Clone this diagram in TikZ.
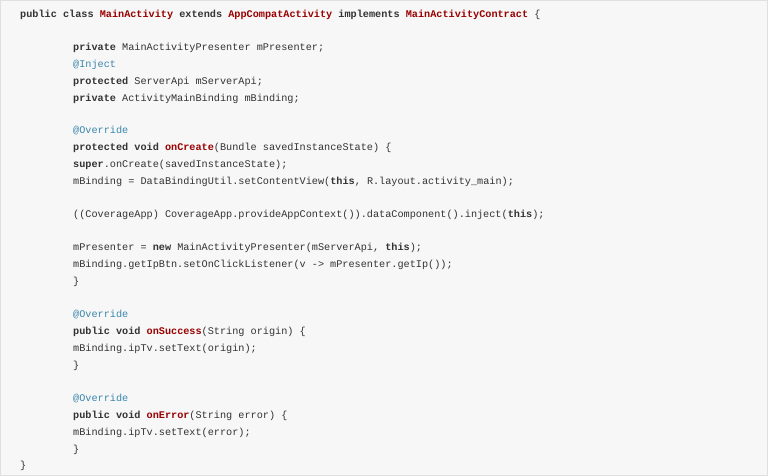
\documentclass[tikz,border=0pt]{standalone}
\usepackage{fontspec}
\setmonofont{Liberation Mono}
\definecolor{txt}{HTML}{333333}
\definecolor{tyc}{HTML}{990000}
\definecolor{anc}{HTML}{3A87AD}
\newcommand{\kw}[1]{\textbf{#1}}
\newcommand{\ty}[1]{\textcolor{tyc}{\textbf{#1}}}
\newcommand{\an}[1]{\textcolor{anc}{#1}}
\tikzset{ln/.style={anchor=west,inner sep=0pt,font=\ttfamily\fontsize{10.2}{12}\selectfont,text=txt}}
\begin{document}
\begin{tikzpicture}[x=1pt,y=-1pt]
\path[fill=black!3,draw=black!12] (0.5,0.5) rectangle (767.5,475.5);
\useasboundingbox (0,0) rectangle (768,476);
\node[ln] (l1) at (20,15) {\kw{public} \kw{class} \ty{MainActivity} \kw{extends} \ty{AppCompatActivity} \kw{implements} \ty{MainActivityContract} \{};
\node[ln] (l2) at (73,48) {\kw{private} MainActivityPresenter mPresenter;};
\node[ln] (l3) at (73,65) {\an{@Inject}};
\node[ln] (l4) at (73,82) {\kw{protected} ServerApi mServerApi;};
\node[ln] (l5) at (73,99) {\kw{private} ActivityMainBinding mBinding;};
\node[ln] (l6) at (73,131) {\an{@Override}};
\node[ln] (l7) at (73,148) {\kw{protected} \kw{void} \ty{onCreate}(Bundle savedInstanceState) \{};
\node[ln] (l8) at (73,165) {\kw{super}.onCreate(savedInstanceState);};
\node[ln] (l9) at (73,182) {mBinding = DataBindingUtil.setContentView(\kw{this}, R.layout.activity\_main);};
\node[ln] (l10) at (73,215) {((CoverageApp) CoverageApp.provideAppContext()).dataComponent().inject(\kw{this});};
\node[ln] (l11) at (73,248) {mPresenter = \kw{new} MainActivityPresenter(mServerApi, \kw{this});};
\node[ln] (l12) at (73,265) {mBinding.getIpBtn.setOnClickListener(v -\/> mPresenter.getIp());};
\node[ln] (l13) at (73,282) {\}};
\node[ln] (l14) at (73,315) {\an{@Override}};
\node[ln] (l15) at (73,332) {\kw{public} \kw{void} \ty{onSuccess}(String origin) \{};
\node[ln] (l16) at (73,349) {mBinding.ipTv.setText(origin);};
\node[ln] (l17) at (73,366) {\}};
\node[ln] (l18) at (73,399) {\an{@Override}};
\node[ln] (l19) at (73,416) {\kw{public} \kw{void} \ty{onError}(String error) \{};
\node[ln] (l20) at (73,433) {mBinding.ipTv.setText(error);};
\node[ln] (l21) at (73,450) {\}};
\node[ln] (l22) at (20,466) {\}};
\end{tikzpicture}
\end{document}
